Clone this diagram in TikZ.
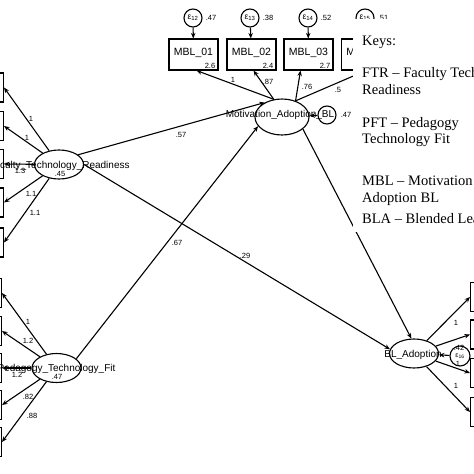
\documentclass[tikz,border=0pt]{standalone}
\usepackage{fontspec}
\setmainfont{Liberation Serif}
\setsansfont{Liberation Sans}
\usetikzlibrary{arrows.meta,shapes.geometric,calc}
\begin{document}
\begin{tikzpicture}[x=1pt,y=-1pt,
  lat/.style={ellipse,draw,line width=1.1pt,minimum width=49pt,minimum height=29pt,inner sep=0pt},
  latm/.style={ellipse,draw,line width=1.1pt,minimum width=54pt,minimum height=36pt,inner sep=0pt},
  obs/.style={rectangle,draw,line width=1.1pt,minimum width=49pt,minimum height=31pt,inner sep=0pt},
  obsl/.style={rectangle,draw,line width=1.1pt,minimum width=49pt,minimum height=29pt,inner sep=0pt},
  err/.style={circle,draw,line width=1.1pt,minimum size=18pt,inner sep=0pt,font=\sffamily\fontsize{8.5}{9}\selectfont},
  pth/.style={line width=1.1pt,-{Stealth[length=5.5pt,width=4.5pt]}},
  lbl/.style={font=\sffamily\fontsize{10}{12}\selectfont,inner sep=0pt},
  lblb/.style={font=\sffamily\fontsize{10.5}{12}\selectfont,inner sep=0pt},
  num/.style={font=\sffamily\fontsize{7.5}{9}\selectfont,inner sep=0pt},
  keytxt/.style={font=\fontsize{14.5}{17}\selectfont,anchor=base west,inner sep=0pt}]
\useasboundingbox (0,0) rectangle (474,474);

% latent variables
\node[lat] (ftr) at (59,164.5) {};
\node[lat] (pft) at (56.5,368) {};
\node[latm] (mot) at (282,117) {};
\node[lat] (bla) at (414,353.5) {};

% MBL indicators
\node[obs] (m1) at (193.5,54.5) {};
\node[obs] (m2) at (251.5,54.5) {};
\node[obs] (m3) at (308.5,54.5) {};
\node[obs] (m4) at (366,54.5) {};
\node[lblb] (m1t) at (193.5,53) {MBL\_01};
\node[lblb] (m2t) at (251.5,53) {MBL\_02};
\node[lblb] (m3t) at (308.5,53) {MBL\_03};
\node[lblb] (m4t) at (366,53) {MBL\_04};
\node[num] (m1i) at (210,65.5) {2.6};
\node[num] (m2i) at (268,65.5) {2.4};
\node[num] (m3i) at (325,65.5) {2.7};

% error terms of MBL
\node[err] (e12) at (193,18) {ε\textsubscript{12}};
\node[err] (e13) at (250,18) {ε\textsubscript{13}};
\node[err] (e14) at (308,18) {ε\textsubscript{14}};
\node[err] (e15) at (365,18) {ε\textsubscript{15}};
\node[num] (v12) at (211,18) {.47};
\node[num] (v13) at (268,18) {.38};
\node[num] (v14) at (326,18) {.52};
\node[num] (v15) at (383,18) {.51};
\draw[pth] (e12) -- (m1);
\draw[pth] (e13) -- (m2);
\draw[pth] (e14) -- (m3);
\draw[pth] (e15) -- (m4);

% FTR indicators (left, mostly off page)
\node[obsl,anchor=east] (f1) at (4,87.5) {};
\node[obsl,anchor=east] (f2) at (4,126) {};
\node[obsl,anchor=east] (f3) at (4,164) {};
\node[obsl,anchor=east] (f4) at (4,202.5) {};
\node[obsl,anchor=east] (f5) at (4,242.5) {};
% PFT indicators
\node[obsl,anchor=east] (p1) at (2,293) {};
\node[obsl,anchor=east] (p2) at (2,331) {};
\node[obsl,anchor=east] (p3) at (2,368) {};
\node[obsl,anchor=east] (p4) at (2,405) {};
\node[obsl,anchor=east] (p5) at (2,442) {};
% BLA indicators (right, mostly off page)
\node[obsl,anchor=west] (b1) at (470,297) {};
\node[obsl,anchor=west] (b2) at (470,334.5) {};
\node[obsl,anchor=west] (b3) at (470,373) {};
\node[obsl,anchor=west] (b4) at (470,412) {};

% measurement paths
\foreach \t in {f1,f2,f3,f4,f5} \draw[pth] (ftr) -- (\t.east);
\foreach \t in {p1,p2,p3,p4,p5} \draw[pth] (pft) -- (\t.east);
\foreach \t in {b1,b2,b3,b4} \draw[pth] (bla) -- (\t.west);
\draw[pth] (mot.115) -- ($(m1.south)+(3,0)$);
\draw[pth] (mot.115) -- ($(m2.south)+(2,0)$);
\draw[pth] (mot.50) -- ($(m3.south)+(-8,0)$);
\draw[pth] (mot.50) -- (m4.south);

% structural paths
\draw[pth] (ftr.27) -- (mot.140);
\draw[pth] (pft.25) -- (mot.201);
\draw[pth] (ftr.east) -- (bla.170);
\draw[pth] (mot.-30) -- (bla.100);

% error terms of endogenous latents
\node[err] (e17) at (327,115) {};
\draw[pth] (e17) -- (mot);
\node[num] (v17) at (346,115) {.47};
\node[err,minimum size=20pt] (e16) at (460,356) {};
\draw[pth] (e16) -- (bla);
\node[num,font=\sffamily\fontsize{7}{8}\selectfont] (e16t) at (460,356) {ε\textsubscript{16}};
\node[num] (v16) at (459,347.5) {.42};
\node[num] (e16o) at (458,364) {1};

% latent labels
\node[lbl] (ftrt) at (59,166) {Faculty\_Technology\_Readiness};
\node[num] (ftrv) at (60,174) {.45};
\node[lbl] (pftt) at (56.5,369) {Pedagogy\_Technology\_Fit};
\node[num] (pftv) at (57,377) {.47};
\node[lbl] (mott) at (280,115) {Motivation\_Adoption\_BL};
\node[lbl] (blat) at (413,355) {BL\_Adoption};

% coefficients
\node[num] (c1) at (31,119) {1};
\node[num] (c2) at (27,138) {1};
\node[num] (c3) at (20,171) {1.3};
\node[num] (c4) at (31,194) {1.1};
\node[num] (c5) at (35,213) {1.1};
\node[num] (d1) at (28,322) {1};
\node[num] (d2) at (28,341) {1.2};
\node[num] (d3) at (17,375) {1.2};
\node[num] (d4) at (28,397) {.82};
\node[num] (d5) at (32,416) {.88};
\node[num] (g1) at (233,80) {1};
\node[num] (g2) at (268,82) {.87};
\node[num] (g3) at (307,87) {.76};
\node[num] (g4) at (338,90) {.5};
\node[num] (k1) at (456,323) {1};
\node[num] (k2) at (456,386) {1};
\node[num] (s1) at (181,135) {.57};
\node[num] (s2) at (177,243) {.67};
\node[num] (s3) at (245,256) {.29};

% keys
\fill[white] (353,19) rectangle (480,232);
\node[keytxt] (k0) at (362,45) {Keys:};
\node[keytxt] (ka) at (362,77) {FTR – Faculty Technology};
\node[keytxt] (kb) at (362,94) {Readiness};
\node[keytxt] (kc) at (362,127) {PFT – Pedagogy};
\node[keytxt] (kd) at (362,143.5) {Technology Fit};
\node[keytxt] (ke) at (362,185) {MBL – Motivation};
\node[keytxt] (kf) at (362,202) {Adoption BL};
\node[keytxt] (kg) at (362,223) {BLA – Blended Learning};
\end{tikzpicture}
\end{document}
